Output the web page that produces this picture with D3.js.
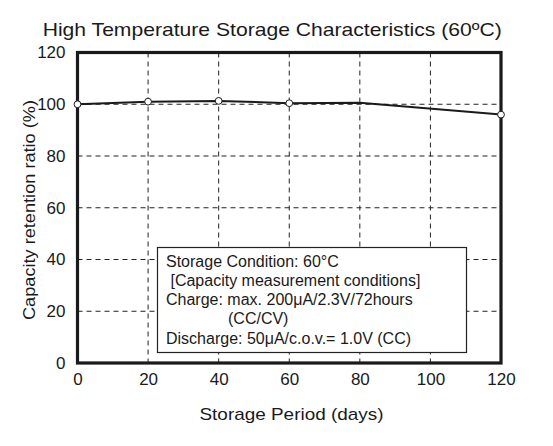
<!DOCTYPE html>
<html><head><meta charset="utf-8">
<script src="https://cdn.jsdelivr.net/npm/d3@7"></script>
<style>body{margin:0;background:#fff}svg{display:block}text{font-family:"Liberation Sans",Arial,sans-serif;fill:#1a1a1a}</style>
</head><body><div id="c"></div>
<script>
const days = [0, 20, 40, 60, 80, 120];
const retention = [100, 101, 101.3, 100.4, 100.6, 96];
const markerDays = [0, 20, 40, 60, 120];
const xTicks = [0, 20, 40, 60, 80, 100, 120];
const yTicks = [0, 20, 40, 60, 80, 100, 120];
const titleText = "High Temperature Storage Characteristics (60ºC)";
const xTitle = "Storage Period (days)";
const yTitle = "Capacity retention ratio (%)";
const noteLines = ["Storage Condition: 60°C", " [Capacity measurement conditions]", "Charge: max. 200μA/2.3V/72hours", "(CC/CV)", "Discharge: 50μA/c.o.v.= 1.0V (CC)"];

const W = 553, H = 446;
const m = {l: 77.5, r: 52, t: 52.5, b: 83};
const svg = d3.select("#c").append("svg").attr("width", W).attr("height", H);
const x = d3.scaleLinear().domain([0, 120]).range([m.l, W - m.r]);
const y = d3.scaleLinear().domain([0, 120]).range([H - m.b, m.t]);
const FF = '"Liberation Sans",Arial,sans-serif';

// grid
const g = svg.append("g");
g.selectAll(".vx").data(xTicks.slice(1, -1)).join("line")
  .attr("x1", d => x(d)).attr("x2", d => x(d)).attr("y1", y(120)).attr("y2", y(0))
  .attr("stroke", "#222").attr("stroke-width", 1).attr("stroke-dasharray", "5,4");
g.selectAll(".hy").data(yTicks.slice(1, -1)).join("line")
  .attr("x1", x(0)).attr("x2", x(120)).attr("y1", d => y(d)).attr("y2", d => y(d))
  .attr("stroke", "#222").attr("stroke-width", 1).attr("stroke-dasharray", "5,4");

// note box
const bx = 157.5, by = 247.5, bw = 309, bh = 105;
svg.append("rect").attr("x", bx).attr("y", by).attr("width", bw).attr("height", bh)
  .attr("fill", "#fff").attr("stroke", "#222").attr("stroke-width", 1.2);
const noteX = [166, 166, 166, 228, 166];
svg.append("g").selectAll("text").data(noteLines).join("text")
  .attr("x", (d, i) => noteX[i]).attr("y", (d, i) => 266.7 + i * 19.2)
  .attr("font-size", 16).attr("xml:space", "preserve").style("white-space", "pre").text(d => d);

// line
const pts = days.map((d, i) => [d, retention[i]]);
svg.append("path").datum(pts)
  .attr("d", d3.line().x(d => x(d[0])).y(d => y(d[1])))
  .attr("fill", "none").attr("stroke", "#1a1a1a").attr("stroke-width", 2);

// frame
svg.append("rect").attr("x", x(0)).attr("y", y(120)).attr("width", x(120) - x(0)).attr("height", y(0) - y(120))
  .attr("fill", "none").attr("stroke", "#1a1a1a").attr("stroke-width", 3.2);

// markers
svg.append("g").selectAll("circle").data(pts.filter(p => markerDays.includes(p[0]))).join("circle")
  .attr("cx", d => x(d[0])).attr("cy", d => y(d[1])).attr("r", 3.4)
  .attr("fill", "#fff").attr("stroke", "#1a1a1a").attr("stroke-width", 1);

// axes labels
const xa = d3.axisBottom(x).tickValues(xTicks).tickSize(0).tickPadding(10);
svg.append("g").attr("transform", `translate(0,${y(0)})`).call(xa)
  .call(s => s.select(".domain").remove())
  .selectAll("text").attr("font-size", 17).attr("fill", "#1a1a1a").style("font-family", FF);
const ya = d3.axisLeft(y).tickValues(yTicks).tickSize(0).tickPadding(12);
svg.append("g").attr("transform", `translate(${x(0)},0)`).call(ya)
  .call(s => s.select(".domain").remove())
  .selectAll("text").attr("font-size", 17).attr("fill", "#1a1a1a").style("font-family", FF);

svg.append("text").attr("x", 42.7).attr("y", 36).attr("font-size", 19)
  .attr("textLength", 459).attr("lengthAdjust", "spacingAndGlyphs").text(titleText);
svg.append("text").attr("x", 199.5).attr("y", 420).attr("font-size", 17)
  .attr("textLength", 184).attr("lengthAdjust", "spacingAndGlyphs").text(xTitle);
svg.append("text").attr("transform", `translate(35,320) rotate(-90)`).attr("font-size", 17)
  .attr("textLength", 220).attr("lengthAdjust", "spacingAndGlyphs").text(yTitle);
</script></body></html>
